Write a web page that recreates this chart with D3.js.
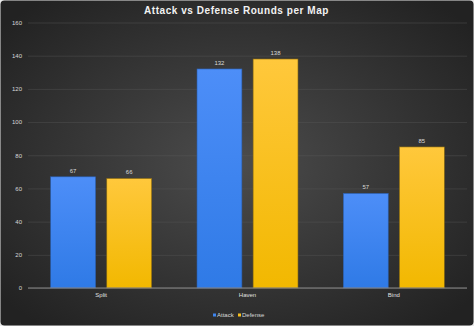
<!DOCTYPE html>
<html><head><meta charset="utf-8">
<script src="https://cdn.jsdelivr.net/npm/d3@7"></script>
<style>html,body{margin:0;padding:0;background:#fff;}svg{display:block;}</style>
</head><body>
<script>
const categories = ["Split", "Haven", "Bind"];
const seriesNames = ["Attack", "Defense"];
const attack = [67, 132, 57];
const defense = [66, 138, 85];
const yTicks = [0, 20, 40, 60, 80, 100, 120, 140, 160];
const title = "Attack vs Defense Rounds per Map";

const W = 474, H = 326;
const m = {left: 28, right: 7, top: 22.5, bottom: 38};
const svg = d3.select("body").append("svg").attr("width", W).attr("height", H);
const defs = svg.append("defs");
const bg = defs.append("radialGradient").attr("id","bg").attr("cx","50%").attr("cy","50%").attr("r","65%");
bg.append("stop").attr("offset","0%").attr("stop-color","#4c4c4c");
bg.append("stop").attr("offset","100%").attr("stop-color","#222");
const gA = defs.append("linearGradient").attr("id","gA").attr("x1",0).attr("y1",0).attr("x2",0).attr("y2",1);
gA.append("stop").attr("offset","0%").attr("stop-color","#4d8ef8");
gA.append("stop").attr("offset","100%").attr("stop-color","#2f7ae6");
const gD = defs.append("linearGradient").attr("id","gD").attr("x1",0).attr("y1",0).attr("x2",0).attr("y2",1);
gD.append("stop").attr("offset","0%").attr("stop-color","#ffc83c");
gD.append("stop").attr("offset","100%").attr("stop-color","#f2b800");

svg.append("rect").attr("width",W).attr("height",H).attr("fill","#e8e8e8");
svg.append("rect").attr("x",0.5).attr("y",0.5).attr("width",W-1).attr("height",H-1).attr("rx",4).attr("fill","url(#bg)");

const y = d3.scaleLinear().domain([0,160]).range([H-m.bottom, m.top]);
const x = d3.scaleBand().domain(categories).range([m.left, W-m.right]).paddingInner(0.31).paddingOuter(0.155);
const xi = d3.scaleBand().domain(seriesNames).range([0, x.bandwidth()]).paddingInner(0.2);

// grid
const yAxis = d3.axisLeft(y).tickValues(yTicks).tickSize(-(W-m.right-m.left)).tickPadding(6);
const ga = svg.append("g").attr("transform",`translate(${m.left},0)`).call(yAxis);
ga.select(".domain").remove();
ga.selectAll(".tick line").attr("stroke","#5a5a5a").attr("stroke-width",0.5).attr("stroke-opacity",0.8);
ga.selectAll(".tick text").attr("fill","#d8d8d8").attr("font-size","6px").attr("font-family","Arial, Liberation Sans, sans-serif");

const colors = {Attack:"url(#gA)", Defense:"url(#gD)"};
const strokes = {Attack:"#2a5fb0", Defense:"#8a6a10"};
const data = categories.map((c,i)=>({cat:c, vals:[{k:"Attack",v:attack[i]},{k:"Defense",v:defense[i]}]}));
const grp = svg.append("g").selectAll("g").data(data).join("g").attr("transform",d=>`translate(${x(d.cat)},0)`);
grp.selectAll("rect").data(d=>d.vals).join("rect")
  .attr("x",d=>xi(d.k)).attr("width",xi.bandwidth())
  .attr("y",d=>y(d.v)).attr("height",d=>y(0)-y(d.v))
  .attr("fill",d=>colors[d.k]).attr("stroke",d=>strokes[d.k]).attr("stroke-width",0.6);
grp.selectAll("text").data(d=>d.vals).join("text")
  .attr("x",d=>xi(d.k)+xi.bandwidth()/2).attr("y",d=>y(d.v)-4)
  .attr("text-anchor","middle").attr("fill","#d8d8d8").attr("font-size","6px")
  .attr("font-family","Arial, Liberation Sans, sans-serif").text(d=>d.v);

// baseline
svg.append("line").attr("x1",m.left).attr("x2",W-m.right).attr("y1",y(0)).attr("y2",y(0)).attr("stroke","#8a8a8a").attr("stroke-width",1);

// x axis labels
const xAxis = d3.axisBottom(x).tickSize(0).tickPadding(5);
const gx = svg.append("g").attr("transform",`translate(0,${y(0)})`).call(xAxis);
gx.select(".domain").remove();
gx.selectAll("text").attr("fill","#e0e0e0").attr("font-size","6px").attr("font-family","Arial, Liberation Sans, sans-serif");

// title
svg.append("text").attr("x",236.5).attr("y",14).attr("text-anchor","middle")
  .attr("fill","#f2f2f2").attr("font-size","10px").attr("font-weight","bold").attr("letter-spacing","0.55px")
  .attr("font-family","Arial, Liberation Sans, sans-serif").text(title);

// legend
const lg = svg.append("g").attr("transform","translate(213,317)");
const litems = lg.selectAll("g").data(seriesNames).join("g").attr("transform",(d,i)=>`translate(${i*25},0)`);
litems.append("rect").attr("x",0).attr("y",-3.5).attr("width",3).attr("height",3)
  .attr("fill",d=>d==="Attack"?"#3d85f0":"#f7be1c");
litems.append("text").attr("x",4).attr("y",0).attr("fill","#d8d8d8").attr("font-size","6px")
  .attr("font-family","Arial, Liberation Sans, sans-serif").text(d=>d);
</script>
</body></html>
